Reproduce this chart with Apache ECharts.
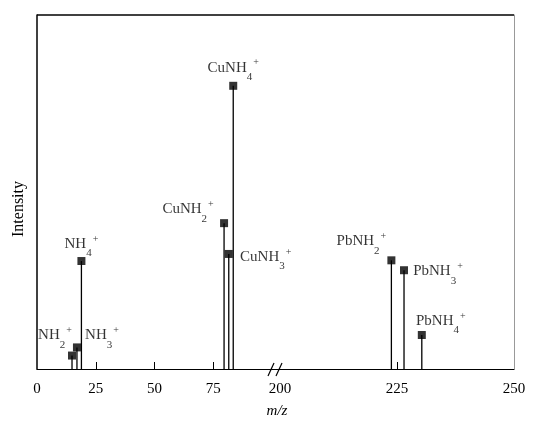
<!DOCTYPE html>
<html><head><meta charset="utf-8">
<script src="https://cdn.jsdelivr.net/npm/echarts@6/dist/echarts.min.js"></script>
<style>html,body{margin:0;padding:0;background:#fff}#c{width:549px;height:424px}</style>
</head><body><div id="c"></div>
<script>
// ---- data ----
const ionBase = ['NH','NH','NH','CuNH','CuNH','CuNH','PbNH','PbNH','PbNH'];
const ionSub = ['2','3','4','2','3','4','2','3','4'];
const mzValues = [14.9, 17.0, 18.9, 79.6, 81.6, 83.5, 223.8, 226.5, 230.3];
const intensity = [3.8, 6.1, 30.5, 41.2, 32.5, 80.0, 30.7, 27.9, 9.6];
const leftTickLabels = [0, 25, 50, 75];
const rightTickLabels = [200, 225, 250];
const leftTicks = [25, 50, 75];
const rightTicks = [225];
const xName = 'm/z';
const yName = 'Intensity';

// ---- styling ----
// label offsets, in data order (NH2, NH3, NH4, CuNH2, CuNH3, CuNH4, PbNH2, PbNH3, PbNH4)
const labelOffsets = [[-17,-20],[25,-12],[0,-17],[-36,-14],[37,3],[0,-18],[-30,-19],[34,1],[19,-14]];
const FONT = "'Liberation Serif','Times New Roman',serif";
const breakAt = 200;

function pts(side) {
  const out = [];
  mzValues.forEach((m, i) => {
    if ((side === 'L') === (m < breakAt)) out.push(i);
  });
  return out;
}
function barData(side) { return pts(side).map(i => [mzValues[i], intensity[i]]); }
function scatterData(side) {
  return pts(side).map(i => ({
    value: [mzValues[i], intensity[i]],
    label: { offset: labelOffsets[i] },
    ionIndex: i
  }));
}
const labelCfg = {
  show: true, position: 'inside', align: 'center', verticalAlign: 'middle',
  formatter: p => `{b|${ionBase[p.data.ionIndex]}}{s|${ionSub[p.data.ionIndex]}}{p|+}`,
  rich: {
    b: { fontFamily: FONT, fontSize: 15, color: '#000', lineHeight: 30, verticalAlign: 'middle' },
    s: { fontFamily: FONT, fontSize: 11, color: '#000', verticalAlign: 'bottom', lineHeight: 12 },
    p: { fontFamily: FONT, fontSize: 10, color: '#000', verticalAlign: 'top', lineHeight: 10, padding: [5, 0, 0, 1] }
  }
};

const axisLabelStyle = { fontFamily: FONT, fontSize: 15, color: '#000', margin: 13 };

const chart = echarts.init(document.getElementById('c'));
chart.setOption({
  animation: false,
  backgroundColor: '#fff',
  grid: [
    { left: 37, top: 15, width: 243, height: 354 },
    { left: 280, top: 15, width: 234, height: 354 }
  ],
  xAxis: [
    { type: 'value', gridIndex: 0, min: 0, max: 103.4,
      axisLine: { show: true, onZero: false, lineStyle: { color: '#000', width: 1 } },
      axisTick: { show: true, inside: true, length: 7, customValues: leftTicks, lineStyle: { color: '#000' } },
      axisLabel: Object.assign({ customValues: leftTickLabels }, axisLabelStyle),
      splitLine: { show: false } },
    { type: 'value', gridIndex: 1, min: 200, max: 250,
      axisLine: { show: true, onZero: false, lineStyle: { color: '#000', width: 1 } },
      axisTick: { show: true, inside: true, length: 7, customValues: rightTicks, lineStyle: { color: '#000' } },
      axisLabel: Object.assign({ customValues: rightTickLabels }, axisLabelStyle),
      splitLine: { show: false } }
  ],
  yAxis: [
    { type: 'value', gridIndex: 0, min: 0, max: 100,
      axisLine: { show: true, lineStyle: { color: '#000', width: 1.5 } },
      axisTick: { show: false }, axisLabel: { show: false }, splitLine: { show: false } },
    { type: 'value', gridIndex: 1, min: 0, max: 100, position: 'right',
      axisLine: { show: true, lineStyle: { color: '#999', width: 1 } },
      axisTick: { show: false }, axisLabel: { show: false }, splitLine: { show: false } }
  ],
  series: [
    { type: 'bar', xAxisIndex: 0, yAxisIndex: 0, data: barData('L'), barWidth: 1.3,
      itemStyle: { color: '#000' }, silent: true },
    { type: 'bar', xAxisIndex: 1, yAxisIndex: 1, data: barData('R'), barWidth: 1.3,
      itemStyle: { color: '#000' }, silent: true },
    { type: 'scatter', xAxisIndex: 0, yAxisIndex: 0, data: scatterData('L'),
      symbol: 'rect', symbolSize: 8, itemStyle: { color: '#000' }, label: labelCfg, z: 5 },
    { type: 'scatter', xAxisIndex: 1, yAxisIndex: 1, data: scatterData('R'),
      symbol: 'rect', symbolSize: 8, itemStyle: { color: '#000' }, label: labelCfg, z: 5 }
  ],
  graphic: [
    { type: 'line', shape: { x1: 37, y1: 15, x2: 514, y2: 15 }, style: { stroke: '#000', lineWidth: 1.5 } },
    { type: 'line', shape: { x1: 268, y1: 376, x2: 274, y2: 363 }, style: { stroke: '#000', lineWidth: 1.2 } },
    { type: 'line', shape: { x1: 276, y1: 376, x2: 282, y2: 363 }, style: { stroke: '#000', lineWidth: 1.2 } },
    { type: 'text', x: 277, y: 411, style: { text: xName, font: `italic 15px ${FONT}`, fill: '#000', align: 'center', verticalAlign: 'middle' } },
    { type: 'text', x: 19, y: 209, rotation: Math.PI / 2, style: { text: yName, font: `16px ${FONT}`, fill: '#000', align: 'center', verticalAlign: 'middle' } }
  ]
});
</script>
</body></html>
